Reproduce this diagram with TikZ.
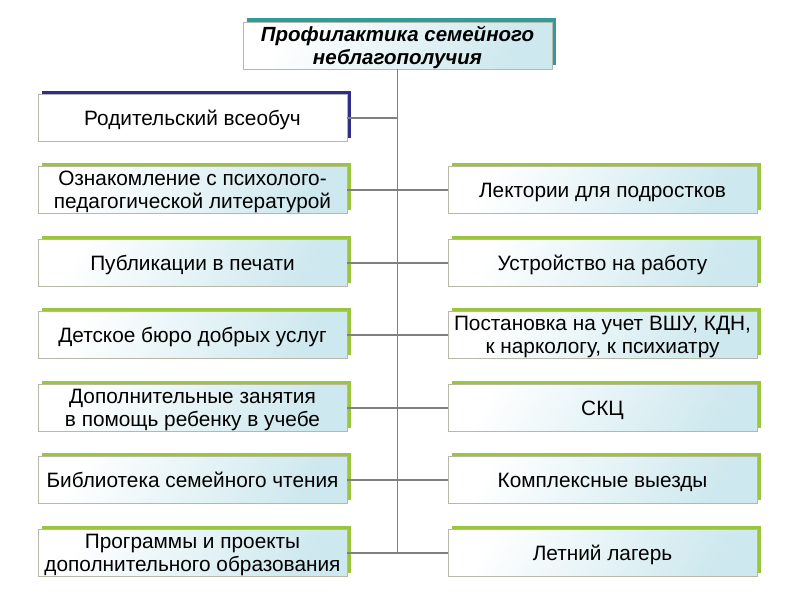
\documentclass[tikz,border=0pt]{standalone}
\usepackage{fontspec}
\setmainfont{Liberation Sans}
\usetikzlibrary{shadows}
\definecolor{boxgreen}{HTML}{9BC53D}
\definecolor{boxnavy}{HTML}{2E2E8A}
\definecolor{boxteal}{HTML}{2E9C9A}
\definecolor{boxblue}{HTML}{CDE8EE}
\definecolor{linegray}{HTML}{808080}
\definecolor{edgegray}{HTML}{B8B8A8}
\begin{document}
\begin{tikzpicture}[x=1pt,y=-1pt,
  base/.style={draw=edgegray, line width=0.8pt, minimum width=309pt, minimum height=47pt,
    inner sep=1pt, align=center, font=\fontsize{20.8}{23}\selectfont, text=black, text depth=0pt},
  grad/.style={shading=axis, left color=white, right color=boxblue, shading angle=60},
  itembox/.style={base, grad, general shadow={fill=boxgreen, shadow xshift=4pt, shadow yshift=4pt}},
  navybox/.style={base, fill=white, general shadow={fill=boxnavy, shadow xshift=4pt, shadow yshift=4pt}},
  topbox/.style={base, grad, font=\fontsize{20.5}{23}\selectfont\bfseries\itshape,
    general shadow={fill=boxteal, shadow xshift=4pt, shadow yshift=4pt}},
  conn/.style={draw=linegray, line width=1.6pt}]
\useasboundingbox (0,0) rectangle (800,600);
\node[topbox] (top) at (397.5,45.5) {Профилактика семейного\\неблагополучия};
\node[navybox] (L1) at (192.5,118) {Родительский всеобуч};
\node[itembox] (L2) at (192.5,190) {Ознакомление с психолого-\\педагогической литературой};
\node[itembox] (L3) at (192.5,263) {Публикации в печати};
\node[itembox] (L4) at (192.5,335) {Детское бюро добрых услуг};
\node[itembox] (L5) at (192.5,408) {Дополнительные занятия\\в помощь ребенку в учебе};
\node[itembox] (L6) at (192.5,480) {Библиотека семейного чтения};
\node[itembox] (L7) at (192.5,553) {Программы и проекты\\дополнительного образования};
\node[itembox] (R2) at (602.5,190) {Лектории для подростков};
\node[itembox] (R3) at (602.5,263) {Устройство на работу};
\node[itembox] (R4) at (602.5,335) {Постановка на учет ВШУ, КДН,\\к наркологу, к психиатру};
\node[itembox] (R5) at (602.5,408) {СКЦ};
\node[itembox] (R6) at (602.5,480) {Комплексные выезды};
\node[itembox] (R7) at (602.5,553) {Летний лагерь};
\coordinate (trunkend) at (top.south |- L7.east);
\draw[conn] (top.south) -- (trunkend);
\foreach \n in {L1,L2,L3,L4,L5,L6,L7}{\draw[conn] (\n.east) -- (\n.east -| top.south);}
\foreach \n in {R2,R3,R4,R5,R6,R7}{\draw[conn] (\n.west) -- (\n.west -| top.south);}
\end{tikzpicture}
\end{document}
